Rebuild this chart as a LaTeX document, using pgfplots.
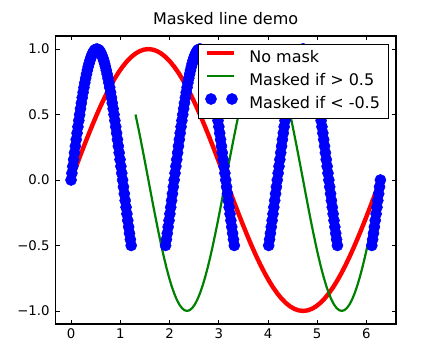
\documentclass[border=0pt]{standalone}
\usepackage{fontspec}
\setmainfont{DejaVu Sans}
\usepackage{pgfplots}
\usepackage{pgfplotstable}
\pgfplotsset{compat=1.18}
\pgfplotsset{
  lineleg/.style={legend image code/.code={\path[draw=none,fill=none] (0pt,0pt) rectangle (42.6pt,11pt); \draw[##1] (6.5pt,5.5pt) -- (33.5pt,5.5pt);}},
  markleg/.style={legend image code/.code={\path[draw=none,fill=none] (0pt,0pt) rectangle (42.6pt,11pt); \draw[##1] plot coordinates {(10.2pt,5.5pt) (31.2pt,5.5pt)};}},
}
% x in degrees (k), axis ticks placed at whole radians
\pgfplotstableread{
k y
0 0
5 0.0872
10 0.1736
15 0.2588
20 0.3420
25 0.4226
30 0.5
35 0.5736
40 0.6428
45 0.7071
50 0.7660
55 0.8192
60 0.8660
65 0.9063
70 0.9397
75 0.9659
80 0.9848
85 0.9962
90 1
95 0.9962
100 0.9848
105 0.9659
110 0.9397
115 0.9063
120 0.8660
125 0.8192
130 0.7660
135 0.7071
140 0.6428
145 0.5736
150 0.5
155 0.4226
160 0.3420
165 0.2588
170 0.1736
175 0.0872
180 0
185 -0.0872
190 -0.1736
195 -0.2588
200 -0.3420
205 -0.4226
210 -0.5
215 -0.5736
220 -0.6428
225 -0.7071
230 -0.7660
235 -0.8192
240 -0.8660
245 -0.9063
250 -0.9397
255 -0.9659
260 -0.9848
265 -0.9962
270 -1
275 -0.9962
280 -0.9848
285 -0.9659
290 -0.9397
295 -0.9063
300 -0.8660
305 -0.8192
310 -0.7660
315 -0.7071
320 -0.6428
325 -0.5736
330 -0.5
335 -0.4226
340 -0.3420
345 -0.2588
350 -0.1736
355 -0.0872
360 0
}\reddata
\pgfplotstableread{
k y
0 0
3 0.1045
6 0.2079
9 0.3090
12 0.4067
15 0.5
45 nan
75 0.5
78 0.4067
81 0.3090
84 0.2079
87 0.1045
90 0
93 -0.1045
96 -0.2079
99 -0.3090
102 -0.4067
105 -0.5
108 -0.5878
111 -0.6691
114 -0.7431
117 -0.8090
120 -0.8660
123 -0.9135
126 -0.9511
129 -0.9781
132 -0.9945
135 -1
138 -0.9945
141 -0.9781
144 -0.9511
147 -0.9135
150 -0.8660
153 -0.8090
156 -0.7431
159 -0.6691
162 -0.5878
165 -0.5
168 -0.4067
171 -0.3090
174 -0.2079
177 -0.1045
180 0
183 0.1045
186 0.2079
189 0.3090
192 0.4067
195 0.5
225 nan
255 0.5
258 0.4067
261 0.3090
264 0.2079
267 0.1045
270 0
273 -0.1045
276 -0.2079
279 -0.3090
282 -0.4067
285 -0.5
288 -0.5878
291 -0.6691
294 -0.7431
297 -0.8090
300 -0.8660
303 -0.9135
306 -0.9511
309 -0.9781
312 -0.9945
315 -1
318 -0.9945
321 -0.9781
324 -0.9511
327 -0.9135
330 -0.8660
333 -0.8090
336 -0.7431
339 -0.6691
342 -0.5878
345 -0.5
348 -0.4067
351 -0.3090
354 -0.2079
357 -0.1045
360 0
}\greendata
\pgfplotstableread{
k y
0 0
1 0.0523
2 0.1045
3 0.1564
4 0.2079
5 0.2588
6 0.3090
7 0.3584
8 0.4067
9 0.4540
10 0.5
11 0.5446
12 0.5878
13 0.6293
14 0.6691
15 0.7071
16 0.7431
17 0.7771
18 0.8090
19 0.8387
20 0.8660
21 0.8910
22 0.9135
23 0.9336
24 0.9511
25 0.9659
26 0.9781
27 0.9877
28 0.9945
29 0.9986
30 1
31 0.9986
32 0.9945
33 0.9877
34 0.9781
35 0.9659
36 0.9511
37 0.9336
38 0.9135
39 0.8910
40 0.8660
41 0.8387
42 0.8090
43 0.7771
44 0.7431
45 0.7071
46 0.6691
47 0.6293
48 0.5878
49 0.5446
50 0.5
51 0.4540
52 0.4067
53 0.3584
54 0.3090
55 0.2588
56 0.2079
57 0.1564
58 0.1045
59 0.0523
60 0
61 -0.0523
62 -0.1045
63 -0.1564
64 -0.2079
65 -0.2588
66 -0.3090
67 -0.3584
68 -0.4067
69 -0.4540
70 -0.5
110 -0.5
111 -0.4540
112 -0.4067
113 -0.3584
114 -0.3090
115 -0.2588
116 -0.2079
117 -0.1564
118 -0.1045
119 -0.0523
120 0
121 0.0523
122 0.1045
123 0.1564
124 0.2079
125 0.2588
126 0.3090
127 0.3584
128 0.4067
129 0.4540
130 0.5
131 0.5446
132 0.5878
133 0.6293
134 0.6691
135 0.7071
136 0.7431
137 0.7771
138 0.8090
139 0.8387
140 0.8660
141 0.8910
142 0.9135
143 0.9336
144 0.9511
145 0.9659
146 0.9781
147 0.9877
148 0.9945
149 0.9986
150 1
151 0.9986
152 0.9945
153 0.9877
154 0.9781
155 0.9659
156 0.9511
157 0.9336
158 0.9135
159 0.8910
160 0.8660
161 0.8387
162 0.8090
163 0.7771
164 0.7431
165 0.7071
166 0.6691
167 0.6293
168 0.5878
169 0.5446
170 0.5
171 0.4540
172 0.4067
173 0.3584
174 0.3090
175 0.2588
176 0.2079
177 0.1564
178 0.1045
179 0.0523
180 0
181 -0.0523
182 -0.1045
183 -0.1564
184 -0.2079
185 -0.2588
186 -0.3090
187 -0.3584
188 -0.4067
189 -0.4540
190 -0.5
230 -0.5
231 -0.4540
232 -0.4067
233 -0.3584
234 -0.3090
235 -0.2588
236 -0.2079
237 -0.1564
238 -0.1045
239 -0.0523
240 0
241 0.0523
242 0.1045
243 0.1564
244 0.2079
245 0.2588
246 0.3090
247 0.3584
248 0.4067
249 0.4540
250 0.5
251 0.5446
252 0.5878
253 0.6293
254 0.6691
255 0.7071
256 0.7431
257 0.7771
258 0.8090
259 0.8387
260 0.8660
261 0.8910
262 0.9135
263 0.9336
264 0.9511
265 0.9659
266 0.9781
267 0.9877
268 0.9945
269 0.9986
270 1
271 0.9986
272 0.9945
273 0.9877
274 0.9781
275 0.9659
276 0.9511
277 0.9336
278 0.9135
279 0.8910
280 0.8660
281 0.8387
282 0.8090
283 0.7771
284 0.7431
285 0.7071
286 0.6691
287 0.6293
288 0.5878
289 0.5446
290 0.5
291 0.4540
292 0.4067
293 0.3584
294 0.3090
295 0.2588
296 0.2079
297 0.1564
298 0.1045
299 0.0523
300 0
301 -0.0523
302 -0.1045
303 -0.1564
304 -0.2079
305 -0.2588
306 -0.3090
307 -0.3584
308 -0.4067
309 -0.4540
310 -0.5
350 -0.5
351 -0.4540
352 -0.4067
353 -0.3584
354 -0.3090
355 -0.2588
356 -0.2079
357 -0.1564
358 -0.1045
359 -0.0523
360 0
}\bluedata
\definecolor{mplgreen}{rgb}{0,0.5,0}
\begin{document}
\begin{tikzpicture}
\begin{axis}[
  scale only axis,
  width=340.7pt, height=288pt,
  xmin=-18.33, xmax=378.15,
  ymin=-1.1, ymax=1.1,
  axis line style={line width=1.1pt},
  tick align=inside,
  major tick length=4.4pt,
  every tick/.style={black, line width=0.6pt},
  xtick={0,57.2958,114.5916,171.8873,229.1831,286.4789,343.7747},
  xticklabels={0,1,2,3,4,5,6},
  ytick={-1,-0.5,0,0.5,1},
  yticklabels={−1.0,−0.5,0.0,0.5,1.0},
  tick label style={font=\fontsize{13.3}{16}\selectfont},
  xticklabel style={anchor=base, inner sep=0pt, yshift=-14.5pt},
  yticklabel style={anchor=east, inner sep=0pt, xshift=-5.5pt},
  title={Masked line demo},
  title style={at={(0.5,1)}, anchor=base, inner sep=0pt, yshift=6pt, font=\fontsize{16}{19}\selectfont},
  unbounded coords=jump,
  legend cell align=left,
  legend style={at={(1,1)}, anchor=north east, xshift=-7pt, yshift=-8pt,
    inner sep=2.5pt, line width=1pt, draw=black, fill=white,
    font=\fontsize{16}{19}\selectfont,
    row sep=0pt, column sep=0pt,
    nodes={inner xsep=6pt, inner ysep=3.5pt, text height=12pt, text depth=4pt}},
]
\coordinate (o) at (rel axis cs:0,0);
\addplot[red, line width=4.4pt, line join=round, lineleg]
  table[x=k, y=y] {\reddata};
\addlegendentry{No mask}
\addplot[mplgreen, line width=2.2pt, line join=round, lineleg]
  table[x=k, y=y] {\greendata};
\addlegendentry{Masked if > 0.5}
\addplot[only marks, mark=*, mark size=5.55pt, mark options={fill=blue, draw=blue, line width=0.5pt}, blue, markleg]
  table[x=k, y=y] {\bluedata};
\addlegendentry{Masked if < -0.5}
\end{axis}
\path (o) ++(-55.3pt,-36pt) rectangle ++(440pt,360pt);
\end{tikzpicture}
\end{document}
